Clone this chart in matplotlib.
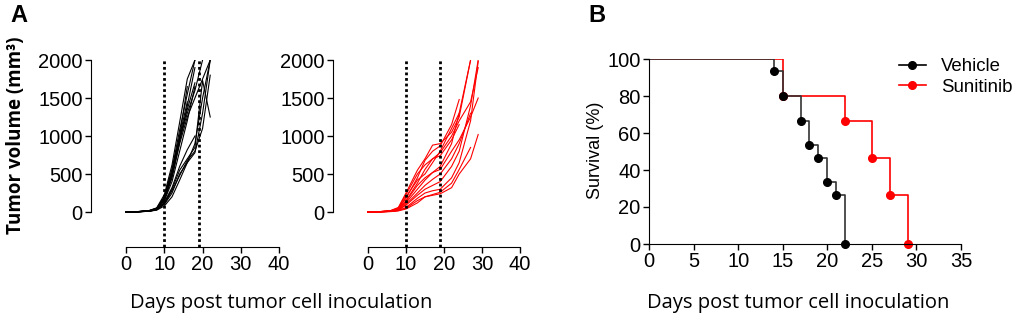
import matplotlib
matplotlib.use("Agg")
import matplotlib.pyplot as plt
import numpy as np

plt.rcParams['font.family'] = ['Liberation Sans', 'DejaVu Sans']

# tumour growth, vehicle group (black)
veh_days = [0, 3, 6, 8, 10, 12, 14, 16, 18, 20, 22]
veh_curves = [
    [0, 5, 15, 40, 170, 480, 1000, 1650],
    [0, 5, 18, 50, 200, 560, 1080, 1550, 2000],
    [0, 6, 20, 55, 230, 620, 1180, 1750, 2000],
    [0, 4, 15, 45, 180, 500, 950, 1300, 1600, 2000],
    [0, 4, 14, 40, 160, 450, 900, 1250, 1500, 1750, 2000],
    [0, 5, 16, 45, 190, 520, 980, 1350, 1700],
    [0, 3, 10, 30, 100, 250, 500, 650, 780, 1300, 2000],
    [0, 3, 12, 35, 120, 300, 550, 700, 850, 1730, 1250],
    [0, 4, 12, 35, 110, 280, 480, 680, 800, 1100, 1800],
    [0, 3, 10, 25, 80, 200, 420, 650, 900, 1500, 2000],
    [0, 4, 14, 42, 170, 470, 920, 1400, 1900],
    [0, 5, 16, 48, 200, 560, 1000, 1450],
    [0, 3, 11, 30, 130, 320, 600, 820, 1000],
    [0, 4, 13, 38, 150, 400, 800, 1200, 1650],
]

# tumour growth, sunitinib group (red)
sun_days = [0, 3, 6, 8, 10, 13, 15, 17, 19, 22, 24, 27, 29]
sun_curves = [
    [0, 5, 20, 60, 250, 550, 700, 880, 900, 1050, 1250, 2000],
    [0, 4, 15, 45, 180, 450, 680, 800, 870, 1150, 1480],
    [0, 3, 10, 30, 120, 300, 420, 520, 600, 900, 1300, 2000],
    [0, 3, 10, 25, 90, 220, 300, 350, 400, 600, 800, 1400, 2000],
    [0, 2, 8, 20, 60, 180, 250, 280, 300, 450, 650, 1200, 1980],
    [0, 3, 8, 20, 50, 150, 200, 220, 240, 320, 500, 700, 1020],
    [0, 4, 12, 35, 150, 380, 560, 700, 780, 1000, 1200, 1450, 1900],
    [0, 3, 9, 25, 100, 250, 350, 430, 500, 700, 900, 1300],
    [0, 4, 14, 40, 200, 420, 500, 650, 800, 1100, 1300],
    [0, 2, 6, 15, 40, 120, 200, 230, 260, 380, 560, 850],
    [0, 5, 18, 55, 230, 500, 620, 700, 740, 950, 1150],
    [0, 3, 11, 28, 140, 350, 450, 520, 560, 800, 950, 1250, 1500],
]

treat_days = [10, 19]

# survival
veh_surv_t = [0, 14, 15, 17, 18, 19, 20, 21, 22]
veh_surv_p = [100, 93.3, 80, 66.7, 53.3, 46.7, 33.3, 26.7, 0]
sun_surv_t = [0, 15, 22, 25, 27, 29]
sun_surv_p = [100, 80, 66.7, 46.7, 26.7, 0]

fig = plt.figure(figsize=(10.24, 3.23), dpi=100)

label_font = dict(family='Open Sans', fontsize=14.5)
TICK = 14.5


def growth_panel(rect, days, curves, color):
    ax = fig.add_axes(rect)
    for c in curves:
        ax.plot(days[:len(c)], c, color=color, lw=0.8)
    for d in treat_days:
        ax.axvline(d, color='black', lw=2, ls=(0, (1, 1)), clip_on=False)
    ax.set_xlim(-9.2, 40)
    ax.set_ylim(-460, 2000)
    ax.spines['top'].set_visible(False)
    ax.spines['right'].set_visible(False)
    ax.spines['left'].set_bounds(0, 2000)
    ax.spines['bottom'].set_bounds(0, 40)
    ax.set_xticks([0, 10, 20, 30, 40])
    ax.set_yticks([0, 500, 1000, 1500, 2000])
    ax.tick_params(labelsize=TICK, length=4, width=1, pad=2)
    return ax


axA1 = growth_panel([91/1024, 76/323, 188/1024, 187/323], veh_days, veh_curves, 'black')
axA2 = growth_panel([333/1024, 76/323, 187/1024, 187/323], sun_days, sun_curves, 'red')
fig.text(16/1024, 1 - 135/323, 'Tumor volume (mm³)', family='Open Sans',
         fontweight='bold', fontsize=13.5, rotation=90, ha='center', va='center')

fig.text(281/1024, 1 - 303/323, 'Days post tumor cell inoculation',
         ha='center', va='center', **label_font)

# survival panel
axB = fig.add_axes([649/1024, 79/323, 312/1024, 185/323])
axB.step(sun_surv_t, sun_surv_p, where='post', color='red', lw=1.2)
axB.step(veh_surv_t, veh_surv_p, where='post', color='#333333', lw=1.2)
axB.plot(sun_surv_t[1:], sun_surv_p[1:], 'o', color='red', ms=5.5, clip_on=False)
axB.plot(veh_surv_t[1:], veh_surv_p[1:], 'o', color='black', ms=5.5, clip_on=False)
axB.plot([], [], '-o', color='black', ms=5.5, lw=1.2, label='Vehicle')
axB.plot([], [], '-o', color='red', ms=5.5, lw=1.2, label='Sunitinib')
axB.set_xlim(0, 35)
axB.set_ylim(0, 100)
axB.set_xticks(range(0, 36, 5))
axB.set_yticks(range(0, 101, 20))
axB.spines['top'].set_visible(False)
axB.spines['right'].set_visible(False)
axB.tick_params(labelsize=TICK, length=4, width=1, pad=2)
fig.text(596/1024, 1 - 150/323, 'Survival (%)', fontsize=13, rotation=90,
         ha='center', va='center')
fig.text(798/1024, 1 - 303/323, 'Days post tumor cell inoculation',
         ha='center', va='center', **label_font)
fig.legend(handles=axB.get_lines()[-2:], loc='upper left',
           bbox_to_anchor=(899/1024, 1 - 58/323), frameon=False,
           fontsize=13.4, handlelength=1.45, handletextpad=0.8,
           labelspacing=0.2, borderpad=0, borderaxespad=0)

fig.text(10/1024, 1 - 16/323, 'A', fontsize=17, fontweight='bold', va='center')
fig.text(588/1024, 1 - 16/323, 'B', fontsize=17, fontweight='bold', va='center')

fig.savefig('out.png', dpi=100)
